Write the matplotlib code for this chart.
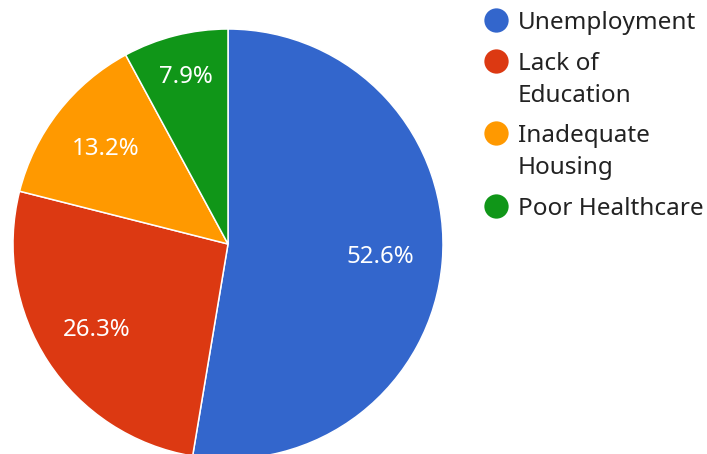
import matplotlib
matplotlib.use("Agg")
import matplotlib.pyplot as plt
import numpy as np

plt.rcParams['font.family'] = ['Noto Sans', 'DejaVu Sans']

# data
categories = ["Unemployment", "Lack of\nEducation", "Inadequate\nHousing", "Poor Healthcare"]
values = [20, 10, 5, 3]
colors = ['#3366cc', '#dc3912', '#ff9900', '#109618']
label_dist = [0.71, 0.73, 0.72, 0.80]   # how far out each % label sits

W, H = 707, 454
fig = plt.figure(figsize=(W / 100, H / 100), dpi=100)

# pie: centre (228, 244) px, radius 215 px
cx, cy, r = 228, 244, 215
ax = fig.add_axes([(cx - r) / W, (H - cy - r) / H, 2 * r / W, 2 * r / H])
wedges, _ = ax.pie(values, colors=colors, startangle=90, counterclock=False,
                   radius=1, wedgeprops=dict(edgecolor='white', linewidth=1.1))
ax.set_xlim(-1, 1)
ax.set_ylim(-1, 1)
ax.set_aspect('auto')
ax.axis('off')
for w in wedges:
    w.set_clip_on(False)

total = sum(values)
for w, v, d in zip(wedges, values, label_dist):
    mid = np.deg2rad((w.theta1 + w.theta2) / 2)
    ax.text(d * np.cos(mid), d * np.sin(mid), "%.1f%%" % (100 * v / total),
            ha='center', va='center', color='white', fontsize=17.3)

# legend drawn in pixel space
leg = fig.add_axes([0, 0, 1, 1])
leg.set_xlim(0, W)
leg.set_ylim(H, 0)
leg.axis('off')
y = 20
line_h = 32
for cat, col in zip(categories, colors):
    leg.plot([496], [y], 'o', color=col, markersize=17.5, markeredgewidth=0)
    lines = cat.split('\n')
    for i, ln in enumerate(lines):
        leg.text(518, y + 9 + i * line_h, ln, ha='left', va='baseline',
                 color='#222222', fontsize=17.5)
    y += line_h * len(lines) + 8.7

fig.savefig("out.png", dpi=100)
